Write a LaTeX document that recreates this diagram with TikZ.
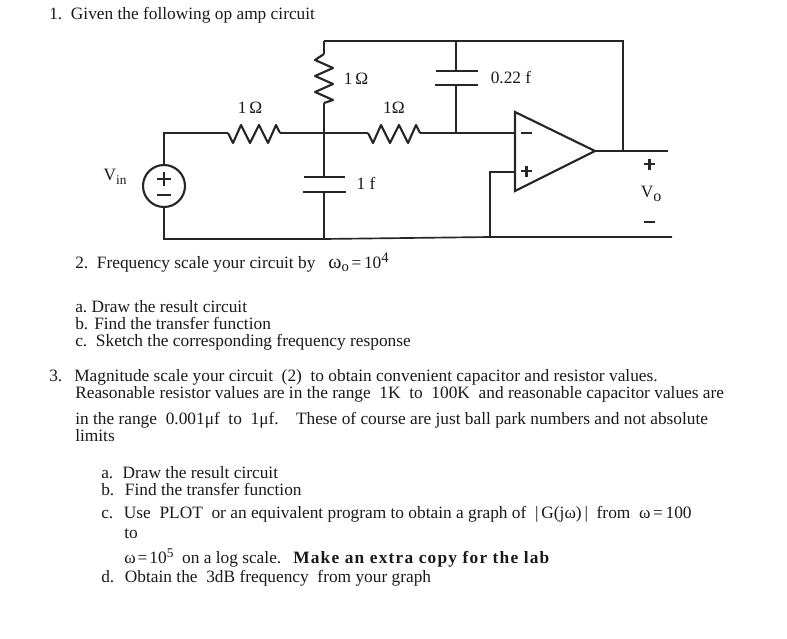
\documentclass[tikz,border=0pt]{standalone}
\usepackage{fontspec}
\setmainfont{Liberation Serif}
\tikzset{
  wire/.style={line width=1.25pt,black!85},
  thick wire/.style={line width=1.6pt,black!85},
  txt/.style={inner sep=0pt,anchor=base west,font=\fontsize{13}{15}\selectfont,text=black!90},
  lbl/.style={inner sep=0pt,anchor=base,font=\fontsize{13}{15}\selectfont,text=black!90}
}
\begin{document}
\begin{tikzpicture}[x=0.75pt,y=-0.75pt]
\useasboundingbox (0,0) rectangle (787,638);
% junctions
\coordinate (top) at (324,41);
\coordinate (J) at (324,133);
\coordinate (bot) at (324,239);
\coordinate (capT) at (456,41);
\coordinate (capJ) at (456,133);
\coordinate (fb) at (623,41);
\coordinate (out) at (623,151);
\coordinate (outEnd) at (668,151);
\coordinate (bEnd) at (672,237);
\coordinate (srcTop) at (164,133);
\coordinate (srcBot) at (164,239);
\coordinate (plus) at (490,172);
\coordinate (plusB) at (490,237);
\node[circle,draw,thick wire,minimum size=31.5pt,inner sep=0pt] (src) at (164,186) {};
% op amp
\draw[thick wire,line join=miter] (515,112) coordinate (oa) -- (595,151) coordinate (ob) -- (515,191) coordinate (oc) -- cycle;
% wires
\draw[wire] (src.north) -- (srcTop) -- (228,133);
\draw[wire] (280,133) -- (J) -- (368,133);
\draw[wire] (src.south) -- (srcBot) -- (bot) -- (plusB) -- (bEnd);
\draw[wire] (top) -- (fb) -- (out);
\draw[wire] (ob) -- (outEnd);
\draw[wire] (420,133) -- (capJ) -- (515,133);
\draw[wire] (plusB) -- (plus) -- (515,172);
\draw[wire] (top) -- (324,54);
\draw[wire] (324,103) -- (J);
\draw[wire] (J) -- (324,177);
\draw[wire] (324,192) -- (bot);
\draw[wire] (capT) -- (456,71);
\draw[wire] (456,85) -- (capJ);
% resistors
\draw[thick wire,line join=round] (228,133) -- (233,143) -- (241,125) -- (250,143) -- (259,125) -- (268,143) -- (276,125) -- (280,133);
\draw[thick wire,line join=round] (368,133) -- (373,143) -- (381,125) -- (390,143) -- (399,125) -- (408,143) -- (416,125) -- (420,133);
\draw[thick wire,line join=round] (324,54) -- (315,60) -- (333,68) -- (315,76) -- (333,84) -- (315,92) -- (333,100) -- (324,103);
% capacitors
\draw[thick wire] (304,177) -- (345,177) (303,192) -- (346,192);
\draw[thick wire] (436,71) -- (478,71) (435,85) -- (478,85);
% source signs
\draw[thick wire] (157,179) -- (171,179) (164,172) -- (164,186);
\draw[thick wire] (157,195) -- (171,195);
% opamp signs
\draw[thick wire] (521,133) -- (532,133);
\draw[thick wire] (521,171) -- (532,171) (526.5,165.5) -- (526.5,176.5);
% output signs
\draw[thick wire] (644,164) -- (655,164) (649.5,158.5) -- (649.5,169.5);
\draw[thick wire] (644,222) -- (655,222);
% labels
\node[lbl] (l1) at (250,113.5) {1\,Ω};
\node[lbl] (l2) at (356,85) {1\,Ω};
\node[lbl] (l3) at (394,113.5) {1Ω};
\node[lbl] (l4) at (366,189.5) {1 f};
\node[lbl] (l5) at (511,84) {0.22 f};
\node[lbl] (vin) at (115,180) {V\raisebox{-3pt}{\fontsize{10}{10}\selectfont in}};
\node[lbl] (vo) at (651,197) {V\raisebox{-3pt}{\fontsize{12}{12}\selectfont o}};
% text
\node[txt] at (49,20) {1.\ \ Given the following op amp circuit};
\node[txt] at (75,268) {2.\ \ Frequency scale your circuit by\ \ \ {\fontsize{15}{15}\selectfont ω}\raisebox{-2.5pt}{\fontsize{11}{11}\selectfont o}\hspace{2pt}=\hspace{2pt}10\raisebox{4pt}{\fontsize{11}{11}\selectfont 4}};
\node[txt] at (75,312) {a.\ Draw the result circuit};
\node[txt] at (75,329) {b.\hspace{4.5pt}Find the transfer function};
\node[txt] at (75,346) {c.\ \ Sketch the corresponding frequency response};
\node[txt] at (49,381) {3.\hspace{9pt}Magnitude scale your circuit\ \ (2)\ \ to obtain convenient capacitor and resistor values.};
\node[txt] at (75,398) {Reasonable resistor values are in the range\ \ 1K\ \ to\ \ 100K\ \ and reasonable capacitor values are};
\node[txt] at (75,424) {in the range\ \ 0.001μf\ \ to\ \ 1μf.\hspace{13pt}These of course are just ball park numbers and not absolute};
\node[txt] at (75,441) {limits};
\node[txt] at (101,478) {a.\hspace{7pt}Draw the result circuit};
\node[txt] at (101,495) {b.\hspace{8pt}Find the transfer function};
\node[txt] at (101,518) {c.\hspace{8pt}Use\ \ PLOT\ \ or an equivalent program to obtain a graph of\ \ |\,G(jω)\,|\ \ from\ \ ω\hspace{2pt}=\hspace{2pt}100};
\node[txt] at (124,538) {to};
\node[txt] at (124,563) {ω\hspace{1.5pt}=\hspace{1.5pt}10\raisebox{4pt}{\fontsize{10}{10}\selectfont 5}\ \ on a log scale.\hspace{9pt}\textbf{\addfontfeature{LetterSpace=7}Make an extra copy for the lab}};
\node[txt] at (101,582) {d.\hspace{8pt}Obtain the\ \ 3dB frequency\ \ from your graph};
\end{tikzpicture}
\end{document}
